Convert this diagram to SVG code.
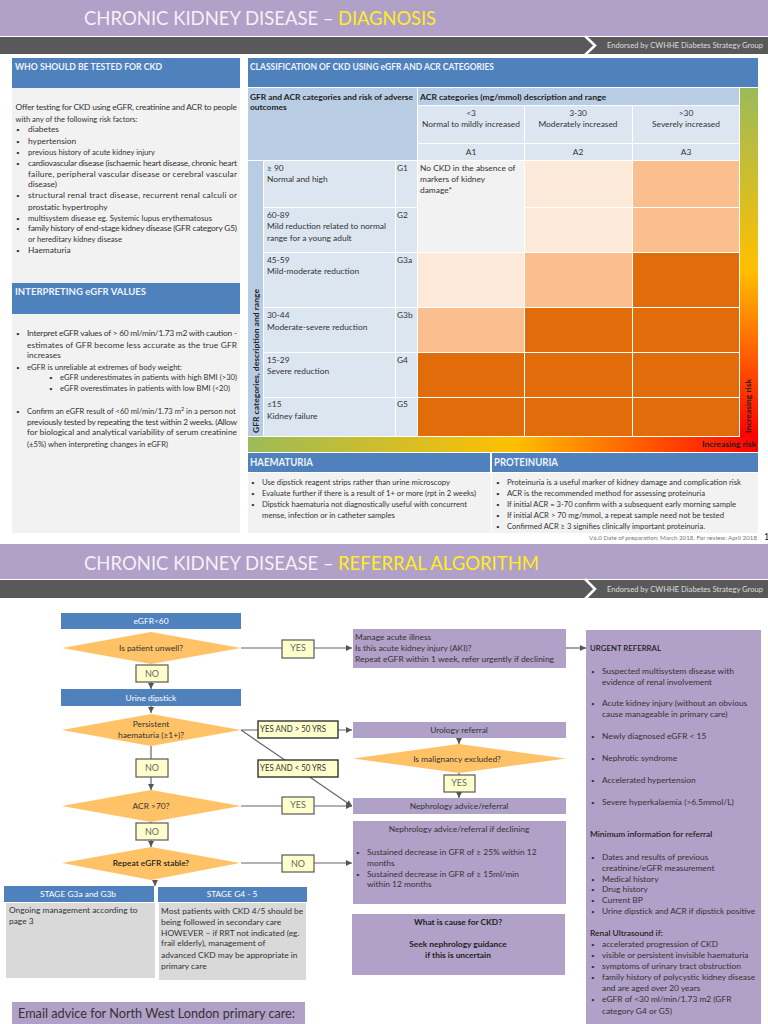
<svg xmlns="http://www.w3.org/2000/svg" width="768" height="1024" viewBox="0 0 768 1024">
<style>
text{font-family:"Lato","Liberation Sans",sans-serif;font-size:8.4px;fill:#333}
.u{font-size:6.5px}
.h{font-weight:700;fill:#eef3fa;font-size:10px}
.b{font-weight:700;fill:#222}
.s{font-weight:600;fill:#222}
.c{text-anchor:middle}
.w{fill:#fff}
.lab{font-size:9px;fill:#666;text-anchor:middle}
.lk{font-size:9px;fill:#333}
.t{font-size:18.5px;fill:#f4f1f7}
.y{font-size:18.5px;fill:#ffee22}
.e{font-size:7.6px;fill:#ddd}
.blue{fill:#4f81bd}
.pur{fill:#b1a0c7}
.gry{fill:#f2f2f2}
.lb{fill:#b8cce4}
.pb{fill:#dce6f1}
.o1{fill:#fde9d9}
.o2{fill:#fbbf8f}
.o3{fill:#e26b0a}
.d{fill:#ffc266}
.bx{fill:#ffffcc;stroke:#595959;stroke-width:1.2}
.bk{fill:#ffffcc;stroke:#333;stroke-width:1.4}
.cn{fill:none;stroke:#666;stroke-width:1.2}
.st{fill:#d9d9d9}
</style>
<defs>
<marker id="ar" markerUnits="userSpaceOnUse" markerWidth="7" markerHeight="7" refX="6" refY="3.5" orient="auto"><path d="M0 0.5L6 3.5L0 6.5Z" fill="#555"/></marker>
<linearGradient id="gv" x1="0" y1="0" x2="0" y2="1"><stop offset="0" stop-color="#9bbb59"/><stop offset="0.52" stop-color="#ffc000"/><stop offset="1" stop-color="#ff0000"/></linearGradient>
<linearGradient id="gh" x1="0" y1="0" x2="1" y2="0"><stop offset="0" stop-color="#9bbb59"/><stop offset="0.52" stop-color="#ffc000"/><stop offset="1" stop-color="#ff0000"/></linearGradient>
</defs>

<g id="page1-banner">
<rect x="0" y="0" width="768" height="36" class="pur"/>
<rect x="0" y="37" width="768" height="17" fill="#595959"/>
<path d="M585 36L595 45.500L585 55" fill="none" stroke="#fff" stroke-width="2.500"/>
<text x="84" y="25" class="t">CHRONIC KIDNEY DISEASE –</text>
<text x="338" y="25" class="y" textLength="98" lengthAdjust="spacingAndGlyphs">DIAGNOSIS</text>
<text x="607" y="48" class="e" textLength="156" lengthAdjust="spacingAndGlyphs">Endorsed by CWHHE Diabetes Strategy Group</text>
</g>

<g id="who-tested">
<rect x="12" y="58" width="228" height="475" class="gry"/>
<rect x="12" y="58" width="228" height="30" class="blue"/>
<text x="15" y="70" class="h" textLength="147" lengthAdjust="spacingAndGlyphs">WHO SHOULD BE TESTED FOR CKD</text>
<text x="15.500" y="110" textLength="221.500">Offer testing for CKD using eGFR, creatinine and ACR to people</text>
<text x="15.500" y="122" textLength="122" lengthAdjust="spacingAndGlyphs">with any of the following risk factors:</text>
<text x="16" y="132" class="u">•</text><text x="28" y="132">diabetes</text>
<text x="16" y="144" class="u">•</text><text x="28" y="144">hypertension</text>
<text x="16" y="155" class="u">•</text><text x="28" y="155" textLength="127" lengthAdjust="spacingAndGlyphs">previous history of acute kidney injury</text>
<text x="16" y="166" class="u">•</text><text x="28" y="166" textLength="209">cardiovascular disease (ischaemic heart disease, chronic heart</text>
<text x="28" y="177" textLength="209">failure, peripheral vascular disease or cerebral vascular</text>
<text x="28" y="187">disease)</text>
<text x="16" y="198" class="u">•</text><text x="28" y="198" textLength="209">structural renal tract disease, recurrent renal calculi or</text>
<text x="28" y="210">prostatic hypertrophy</text>
<text x="16" y="221" class="u">•</text><text x="28" y="221" textLength="184" lengthAdjust="spacingAndGlyphs">multisystem disease eg. Systemic lupus erythematosus</text>
<text x="16" y="231" class="u">•</text><text x="28" y="231" textLength="209">family history of end-stage kidney disease (GFR category G5)</text>
<text x="28" y="242" textLength="94" lengthAdjust="spacingAndGlyphs">or hereditary kidney disease</text>
<text x="16" y="253" class="u">•</text><text x="28" y="253">Haematuria</text>
</g>

<g id="interpreting-egfr">
<rect x="12" y="283" width="228" height="31" class="blue"/>
<text x="15" y="295" class="h" textLength="131" lengthAdjust="spacingAndGlyphs">INTERPRETING eGFR VALUES</text>
<text x="16" y="336" class="u">•</text><text x="27" y="336" textLength="210">Interpret eGFR values of &gt; 60 ml/min/1.73 m2 with caution -</text>
<text x="27" y="348" textLength="210">estimates of GFR become less accurate as the true GFR</text>
<text x="27" y="358">increases</text>
<text x="16" y="370" class="u">•</text><text x="27" y="370" textLength="155" lengthAdjust="spacingAndGlyphs">eGFR is unreliable at extremes of body weight:</text>
<text x="49" y="380" class="u">•</text><text x="60" y="380" textLength="177" lengthAdjust="spacingAndGlyphs">eGFR underestimates in patients with high BMI (&gt;30)</text>
<text x="49" y="391" class="u">•</text><text x="60" y="391" textLength="170" lengthAdjust="spacingAndGlyphs">eGFR overestimates in patients with low BMI (&lt;20)</text>
<text x="16" y="414" class="u">•</text><text x="27" y="414" style="font-size:7.6px">Confirm an eGFR result of &lt;60 ml/min/1.73 m<tspan font-size="5.500" dy="-3">2</tspan><tspan dy="3"> in a person not</tspan></text>
<text x="27" y="425" textLength="210">previously tested by repeating the test within 2 weeks. (Allow</text>
<text x="27" y="435" textLength="210">for biological and analytical variability of serum creatinine</text>
<text x="27" y="447" textLength="141" lengthAdjust="spacingAndGlyphs">(±5%) when interpreting changes in eGFR)</text>
</g>

<g id="classification-table">
<rect x="248" y="58" width="510" height="29" class="blue"/>
<text x="250" y="70" class="h" textLength="244" lengthAdjust="spacingAndGlyphs">CLASSIFICATION OF CKD USING eGFR AND ACR CATEGORIES</text>
<rect x="248" y="88" width="169" height="72" class="lb"/>
<text x="250" y="100" class="b" textLength="163" lengthAdjust="spacingAndGlyphs">GFR and ACR categories and risk of adverse</text>
<text x="250" y="110" class="b">outcomes</text>
<rect x="418" y="88" width="321" height="17" class="lb"/>
<text x="420" y="100" class="b" textLength="186" lengthAdjust="spacingAndGlyphs">ACR categories (mg/mmol) description and range</text>

<rect x="418" y="106" width="106" height="37" class="pb"/><rect x="525" y="106" width="107" height="37" class="pb"/><rect x="633" y="106" width="106" height="37" class="pb"/>
<rect x="418" y="144" width="106" height="16" class="pb"/><rect x="525" y="144" width="107" height="16" class="pb"/><rect x="633" y="144" width="106" height="16" class="pb"/>
<text x="471" y="116" class="c">&lt;3</text><text x="471" y="127" class="c">Normal to mildly increased</text>
<text x="578" y="116" class="c">3-30</text><text x="578" y="127" class="c">Moderately increased</text>
<text x="686" y="116" class="c">&gt;30</text><text x="686" y="127" class="c">Severely increased</text>
<text x="471" y="155" class="c">A1</text><text x="578" y="155" class="c">A2</text><text x="686" y="155" class="c">A3</text>

<rect x="248" y="161" width="15" height="275" class="lb"/>
<text transform="translate(259 433) rotate(-90)" class="b" textLength="144" lengthAdjust="spacingAndGlyphs">GFR categories, description and range</text>

<rect x="264" y="161" width="131" height="46" class="pb"/><rect x="396" y="161" width="21" height="46" class="pb"/>
<rect x="264" y="208" width="131" height="44" class="pb"/><rect x="396" y="208" width="21" height="44" class="pb"/>
<rect x="264" y="253" width="131" height="54" class="pb"/><rect x="396" y="253" width="21" height="54" class="pb"/>
<rect x="264" y="308" width="131" height="44" class="pb"/><rect x="396" y="308" width="21" height="44" class="pb"/>
<rect x="264" y="353" width="131" height="44" class="pb"/><rect x="396" y="353" width="21" height="44" class="pb"/>
<rect x="264" y="398" width="131" height="38" class="pb"/><rect x="396" y="398" width="21" height="38" class="pb"/>

<text x="267" y="171">≥ 90</text><text x="267" y="182">Normal and high</text><text x="397" y="171">G1</text>
<text x="267" y="218">60-89</text><text x="267" y="229">Mild reduction related to normal</text><text x="267" y="241">range for a young adult</text><text x="397" y="218">G2</text>
<text x="267" y="263">45-59</text><text x="267" y="274">Mild-moderate reduction</text><text x="397" y="263">G3a</text>
<text x="267" y="318">30-44</text><text x="267" y="330">Moderate-severe reduction</text><text x="397" y="318">G3b</text>
<text x="267" y="363">15-29</text><text x="267" y="374">Severe reduction</text><text x="397" y="363">G4</text>
<text x="267" y="407">≤15</text><text x="267" y="419">Kidney failure</text><text x="397" y="407">G5</text>

<rect x="418" y="161" width="106" height="91" class="gry"/>
<text x="420" y="171">No CKD in the absence of</text><text x="420" y="182">markers of kidney</text><text x="420" y="193">damage*</text>
<rect x="418" y="253" width="106" height="54" class="o1"/>
<rect x="418" y="308" width="106" height="44" class="o2"/>
<rect x="418" y="353" width="106" height="44" class="o3"/>
<rect x="418" y="398" width="106" height="38" class="o3"/>
<rect x="525" y="161" width="107" height="46" class="o1"/>
<rect x="525" y="208" width="107" height="44" class="o1"/>
<rect x="525" y="253" width="107" height="54" class="o2"/>
<rect x="525" y="308" width="107" height="44" class="o3"/>
<rect x="525" y="353" width="107" height="44" class="o3"/>
<rect x="525" y="398" width="107" height="38" class="o3"/>
<rect x="633" y="161" width="106" height="46" class="o2"/>
<rect x="633" y="208" width="106" height="44" class="o2"/>
<rect x="633" y="253" width="106" height="54" class="o3"/>
<rect x="633" y="308" width="106" height="44" class="o3"/>
<rect x="633" y="353" width="106" height="44" class="o3"/>
<rect x="633" y="398" width="106" height="38" class="o3"/>

<rect x="740" y="88" width="18" height="349" fill="url(#gv)"/>
<rect x="248" y="437" width="510" height="15" fill="url(#gh)"/>
<text transform="translate(751 433) rotate(-90)" class="b" textLength="54" lengthAdjust="spacingAndGlyphs">Increasing risk</text>
<text x="702" y="447" class="b" textLength="54" lengthAdjust="spacingAndGlyphs">Increasing risk</text>
</g>

<g id="haematuria">
<rect x="248" y="453" width="242" height="19" class="blue"/>
<text x="250" y="466" class="h" style="font-size:11px" textLength="63" lengthAdjust="spacingAndGlyphs">HAEMATURIA</text>
<rect x="248" y="473" width="243" height="60" class="gry"/>
<text x="251" y="485" class="u">•</text><text x="262" y="485" textLength="188" lengthAdjust="spacingAndGlyphs">Use dipstick reagent strips rather than urine microscopy</text>
<text x="251" y="496" class="u">•</text><text x="262" y="496" textLength="214" lengthAdjust="spacingAndGlyphs">Evaluate further if there is a result of 1+ or more (rpt in 2 weeks)</text>
<text x="251" y="507" class="u">•</text><text x="262" y="507" textLength="205" lengthAdjust="spacingAndGlyphs">Dipstick haematuria not diagnostically useful with concurrent</text>
<text x="262" y="518" textLength="133" lengthAdjust="spacingAndGlyphs">mense, infection or in catheter samples</text>
</g>

<g id="proteinuria">
<rect x="492" y="453" width="266" height="19" class="blue"/>
<text x="494" y="466" class="h" style="font-size:11px" textLength="64" lengthAdjust="spacingAndGlyphs">PROTEINURIA</text>
<rect x="492" y="473" width="266" height="60" class="gry"/>
<text x="496" y="485" class="u">•</text><text x="507" y="485" textLength="234" lengthAdjust="spacingAndGlyphs">Proteinuria is a useful marker of  kidney damage and complication risk</text>
<text x="496" y="496" class="u">•</text><text x="507" y="496" textLength="198" lengthAdjust="spacingAndGlyphs">ACR is the recommended method for assessing proteinuria</text>
<text x="496" y="507" class="u">•</text><text x="507" y="507" textLength="229" lengthAdjust="spacingAndGlyphs">If initial ACR = 3-70 confirm with a subsequent early morning sample</text>
<text x="496" y="518" class="u">•</text><text x="507" y="518" textLength="217" lengthAdjust="spacingAndGlyphs">If initial ACR  &gt; 70 mg/mmol, a repeat sample need not be tested</text>
<text x="496" y="529" class="u">•</text><text x="507" y="529" textLength="198" lengthAdjust="spacingAndGlyphs">Confirmed ACR ≥ 3 signifies clinically important proteinuria.</text>
</g>

<g id="page1-footer">
<text x="589" y="539.500" style="font-size:6.500px;fill:#777" textLength="168" lengthAdjust="spacingAndGlyphs">V6.0 Date of preparation: March  2018. For review: April 2018</text>
<text x="764" y="540" style="font-size:9px;fill:#222">1</text>
</g>

<g id="page2-banner">
<rect x="0" y="544" width="768" height="35" class="pur"/>
<rect x="0" y="580" width="768" height="18" fill="#595959"/>
<path d="M585 579L595 589L585 599" fill="none" stroke="#fff" stroke-width="2.500"/>
<text x="84" y="570" class="t">CHRONIC KIDNEY DISEASE –</text>
<text x="338" y="570" class="y" textLength="201" lengthAdjust="spacingAndGlyphs">REFERRAL ALGORITHM</text>
<text x="607" y="592" class="e" textLength="156" lengthAdjust="spacingAndGlyphs">Endorsed by CWHHE Diabetes Strategy Group</text>
</g>

<g id="connectors">
<path class="cn" marker-end="url(#ar)" d="M241 648H352"/>
<path class="cn" marker-end="url(#ar)" d="M566 648H586"/>
<path class="cn" marker-end="url(#ar)" d="M151 682V689"/>
<path class="cn" marker-end="url(#ar)" d="M151 706V713"/>
<path class="cn" marker-end="url(#ar)" d="M151 746V790"/>
<path class="cn" marker-end="url(#ar)" d="M241 730H352"/>
<path class="cn" marker-end="url(#ar)" d="M241 730L352 806"/>
<path class="cn" marker-end="url(#ar)" d="M241 806H352"/>
<path class="cn" marker-end="url(#ar)" d="M459 738V744"/>
<path class="cn" marker-end="url(#ar)" d="M459 773V798"/>
<path class="cn" marker-end="url(#ar)" d="M151 822V847"/>
<path class="cn" marker-end="url(#ar)" d="M241 863H352"/>
<path class="cn" marker-end="url(#ar)" d="M155 880V886"/>
</g>

<g id="n-egfr"><rect x="61" y="613" width="180" height="16" class="blue"/><text x="151" y="624" class="c w">eGFR&lt;60</text></g>
<g id="n-unwell"><polygon points="62,648 151,632 241,648 151,664" class="d"/><text x="151" y="651" class="c">Is patient unwell?</text></g>
<g id="n-no1"><rect x="136" y="665" width="32" height="17" class="bx"/><text x="152" y="677" class="lab">NO</text></g>
<g id="n-dipstick"><rect x="61" y="689" width="180" height="17" class="blue"/><text x="151" y="701" class="c w">Urine dipstick</text></g>
<g id="n-haematuria"><polygon points="62,730 151,714 241,730 151,746" class="d"/><text x="151" y="727" class="c">Persistent</text><text x="151" y="738" class="c">haematuria (≥1+)?</text></g>
<g id="n-no2"><rect x="136" y="759" width="32" height="18" class="bx"/><text x="152" y="771" class="lab">NO</text></g>
<g id="n-acr"><polygon points="62,806 151,790 241,806 151,822" class="d"/><text x="151" y="809" class="c">ACR &gt;70?</text></g>
<g id="n-no3"><rect x="136" y="823" width="32" height="17" class="bx"/><text x="152" y="835" class="lab">NO</text></g>
<g id="n-stable"><polygon points="62,863 151,847 240,863 151,880" class="d"/><text x="151" y="866" class="c s">Repeat eGFR stable?</text></g>
<g id="n-yes1"><rect x="282" y="640" width="32" height="18" class="bx"/><text x="298" y="651" class="lab">YES</text></g>
<g id="n-manage"><rect x="353" y="629" width="213" height="39" class="pur"/><text x="355" y="640">Manage acute illness</text><text x="355" y="651">Is this acute kidney injury (AKI)?</text><text x="355" y="662" textLength="199" lengthAdjust="spacingAndGlyphs">Repeat eGFR within 1 week, refer urgently if declining</text></g>
<g id="n-yes50"><rect x="258" y="721" width="80" height="17" class="bk"/><text x="260" y="732" class="lk" textLength="66" lengthAdjust="spacingAndGlyphs">YES AND &gt; 50 YRS</text></g>
<g id="n-urology"><rect x="353" y="722" width="213" height="16" class="pur"/><text x="459" y="733" class="c">Urology referral</text></g>
<g id="n-malignancy"><polygon points="353,758.500 459,744 566,758.500 459,773" class="d"/><text x="457" y="762" class="c">Is malignancy excluded?</text></g>
<g id="n-yes2"><rect x="444" y="775" width="31" height="17" class="bx"/><text x="459" y="786" class="lab">YES</text></g>
<g id="n-yes50b"><rect x="258" y="760" width="80" height="17" class="bk"/><text x="260" y="771" class="lk" textLength="66" lengthAdjust="spacingAndGlyphs">YES AND &lt; 50 YRS</text></g>
<g id="n-yes3"><rect x="282" y="797" width="32" height="17" class="bx"/><text x="298" y="808" class="lab">YES</text></g>
<g id="n-nephrology"><rect x="353" y="798" width="213" height="16" class="pur"/><text x="459" y="809" class="c">Nephrology advice/referral</text></g>
<g id="n-no4"><rect x="282" y="855" width="32" height="17" class="bx"/><text x="298" y="867" class="lab">NO</text></g>
<g id="n-declining"><rect x="353" y="821" width="213" height="83" class="pur"/><text x="459" y="832" class="c">Nephrology advice/referral if declining</text>
<text x="356" y="855" class="u">•</text><text x="367" y="855">Sustained decrease in GFR of ≥ 25% within 12</text>
<text x="367" y="866">months</text>
<text x="356" y="877" class="u">•</text><text x="367" y="877">Sustained decrease in GFR of ≥ 15ml/min</text>
<text x="367" y="887">within 12 months</text></g>
<g id="n-cause"><rect x="352" y="914" width="213" height="61" class="pur"/><text x="458" y="925" class="c b">What is cause for CKD?</text><text x="458" y="947" class="c b">Seek nephrology guidance</text><text x="458" y="958" class="c b">if this is uncertain</text></g>
<g id="n-stage3"><rect x="4" y="886" width="150" height="16" class="blue"/><text x="78" y="897" class="c w">STAGE G3a and G3b</text>
<rect x="6" y="903" width="149" height="75" class="st"/><text x="9" y="913">Ongoing management according to</text><text x="9" y="924">page 3</text></g>
<g id="n-stage4"><rect x="158" y="887" width="149" height="15" class="blue"/><text x="232" y="897" class="c w">STAGE G4 - 5</text>
<rect x="159" y="903" width="147" height="77" class="st"/>
<text x="161" y="914">Most patients with CKD 4/5 should be</text><text x="161" y="925">being followed in secondary care</text><text x="161" y="936">HOWEVER – if RRT not indicated (eg.</text><text x="161" y="946">frail elderly), management of</text><text x="161" y="958">advanced CKD may be appropriate in</text><text x="161" y="969">primary care</text></g>
<g id="n-urgent"><rect x="586" y="630" width="175" height="394" class="pur"/>
<text x="590" y="651" class="s" textLength="71" lengthAdjust="spacingAndGlyphs">URGENT REFERRAL</text>
<text x="591" y="674" class="u">•</text><text x="602" y="674">Suspected multisystem disease with</text>
<text x="602" y="685">evidence of renal involvement</text>
<text x="591" y="706" class="u">•</text><text x="602" y="706">Acute kidney injury (without an obvious</text>
<text x="602" y="717">cause manageable in primary care)</text>
<text x="591" y="739" class="u">•</text><text x="602" y="739">Newly diagnosed eGFR &lt; 15</text>
<text x="591" y="761" class="u">•</text><text x="602" y="761">Nephrotic syndrome</text>
<text x="591" y="783" class="u">•</text><text x="602" y="783">Accelerated hypertension</text>
<text x="591" y="805" class="u">•</text><text x="602" y="805">Severe hyperkalaemia (&gt;6.5mmol/L)</text>
<text x="590" y="837" class="s">Minimum information for referral</text>
<text x="591" y="860" class="u">•</text><text x="602" y="860">Dates and results of previous</text>
<text x="602" y="871">creatinine/eGFR measurement</text>
<text x="591" y="882" class="u">•</text><text x="602" y="882">Medical history</text>
<text x="591" y="892" class="u">•</text><text x="602" y="892">Drug history</text>
<text x="591" y="903" class="u">•</text><text x="602" y="903">Current BP</text>
<text x="591" y="914" class="u">•</text><text x="602" y="914">Urine dipstick and ACR if dipstick positive</text>
<text x="590" y="936" class="s">Renal Ultrasound if:</text>
<text x="591" y="947" class="u">•</text><text x="602" y="947">accelerated progression of CKD</text>
<text x="591" y="958" class="u">•</text><text x="602" y="958">visible or persistent invisible haematuria</text>
<text x="591" y="969" class="u">•</text><text x="602" y="969">symptoms of urinary tract obstruction</text>
<text x="591" y="980" class="u">•</text><text x="602" y="980">family history of polycystic kidney disease</text>
<text x="602" y="991">and are aged over 20 years</text>
<text x="591" y="1002" class="u">•</text><text x="602" y="1002">eGFR of &lt;30 ml/min/1.73 m2 (GFR</text>
<text x="602" y="1014">category G4 or G5)</text>
</g>
<g id="n-email"><rect x="12" y="1002" width="293" height="22" class="pur"/><text x="18" y="1018" style="font-size:14px;fill:#333" textLength="277" lengthAdjust="spacingAndGlyphs">Email advice for North West London primary care:</text></g>
</svg>
